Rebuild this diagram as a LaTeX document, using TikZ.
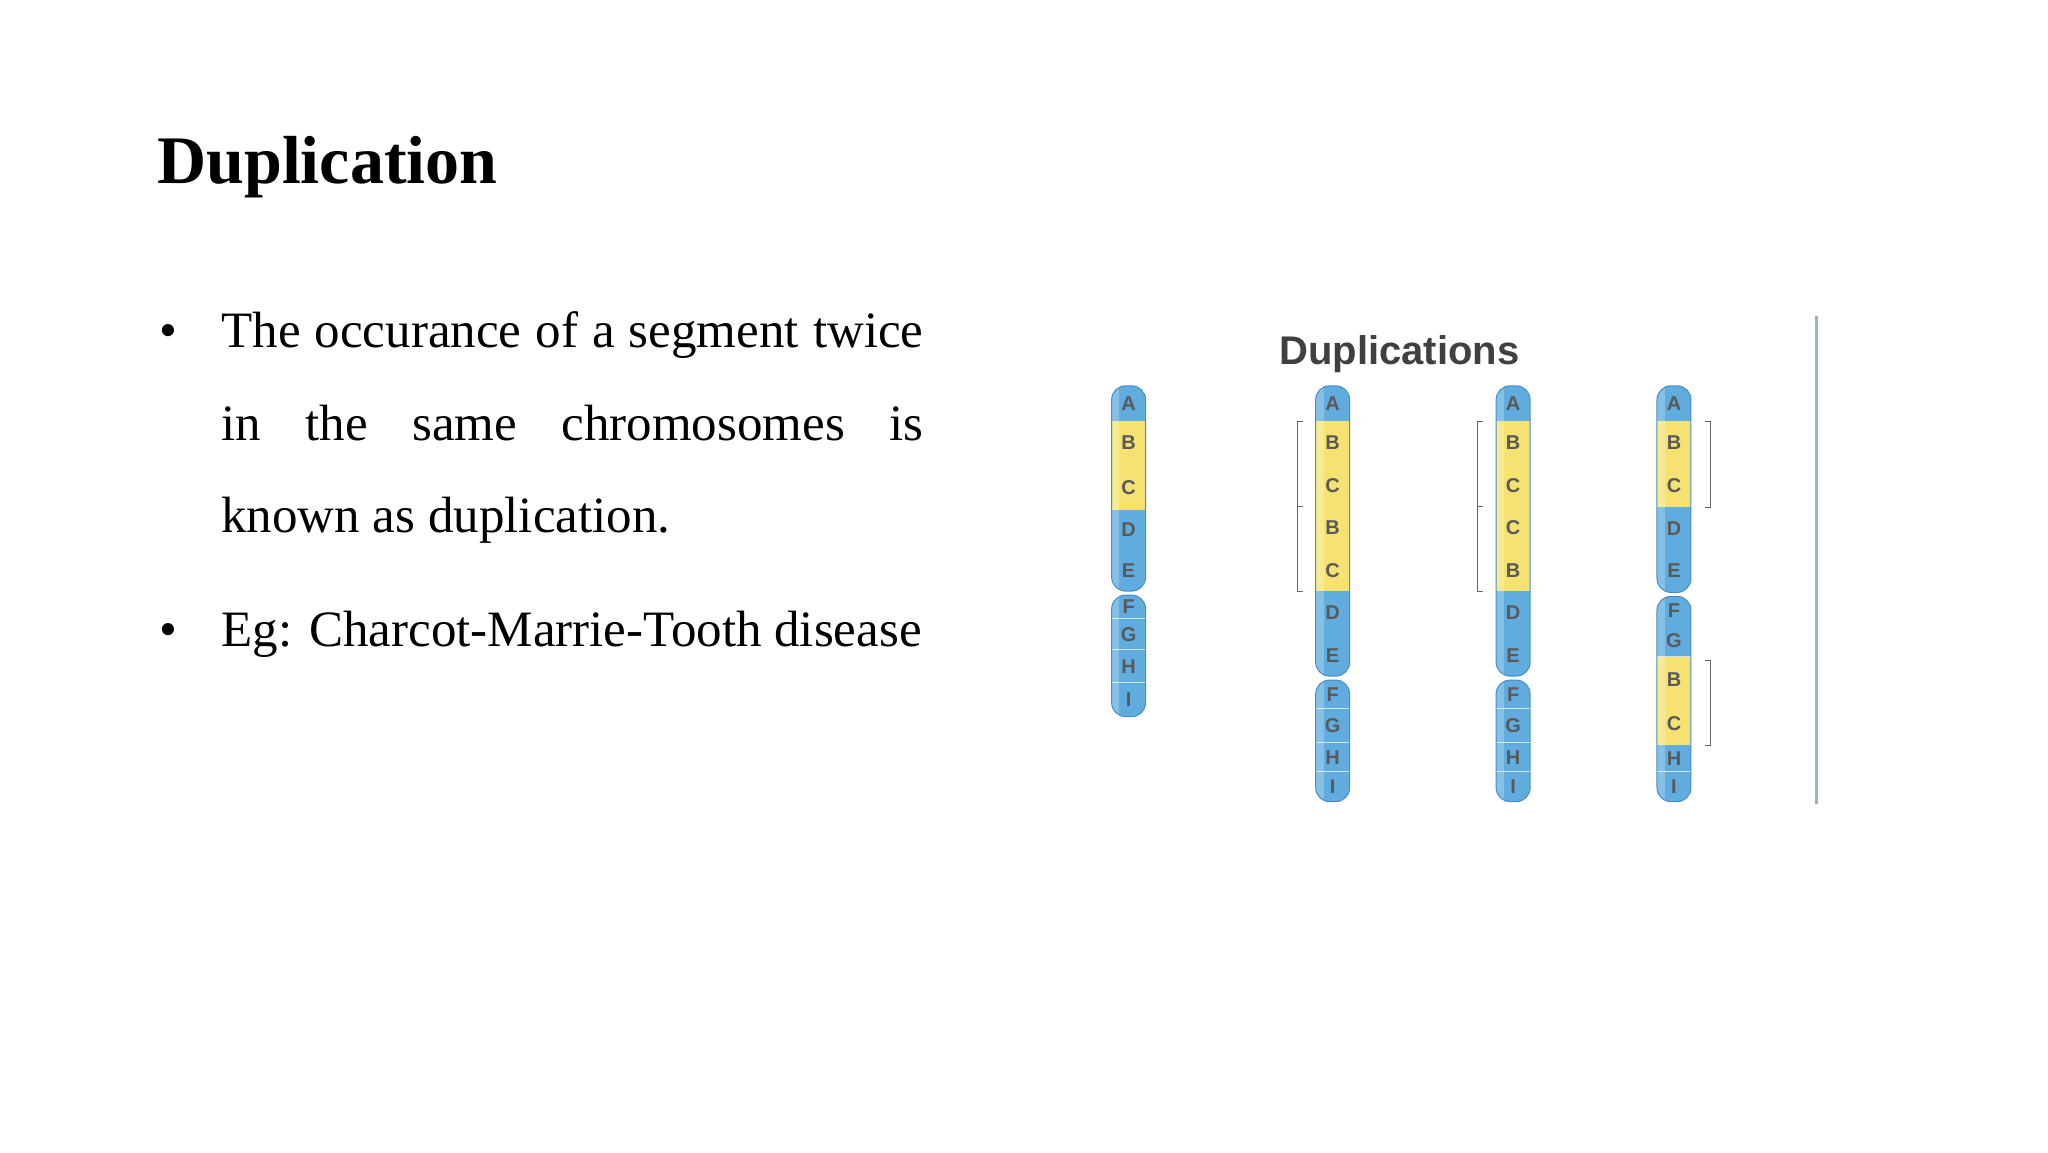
\documentclass[tikz,border=0pt]{standalone}
\usepackage{fontspec}
\setmainfont{Liberation Serif}
\newfontfamily\lsans{Liberation Sans}
\definecolor{cblue}{RGB}{96,172,222}
\definecolor{cyell}{RGB}{246,226,112}
\definecolor{cedge}{RGB}{70,140,200}
\definecolor{vline}{RGB}{150,185,180}
\tikzset{
 body/.style={anchor=base west,inner sep=0pt,font=\fontsize{25.5}{30}\selectfont},
 bandlbl/.style={font=\lsans\bfseries\fontsize{10}{10}\selectfont,text=black!65,inner sep=0pt},
 brk/.style={draw=black!60,line width=0.6pt},
}
\newcommand{\myarm}[4]{% x, top, bottom, bands
 \begin{scope}
 \clip[rounded corners=7] (#1-13,#2) rectangle (#1+13,#3);
 \foreach \t/\b/\c/\l in {#4}{
   \fill[\c] (#1-13,\t) rectangle (#1+13,\b);
   \draw[white!70!cblue,line width=0.5pt] (#1-13,\b) -- (#1+13,\b);
   \node[bandlbl] at (#1,{(\t+\b)/2}) {\l};
 }
 \fill[white,opacity=0.25] (#1-13,#2) rectangle (#1-7,#3);
 \end{scope}
 \draw[cedge,line width=0.5pt,rounded corners=7] (#1-13,#2) rectangle (#1+13,#3);
}
\begin{document}
\begin{tikzpicture}[x=0.6539pt,y=-0.6539pt]
\useasboundingbox (0,0) rectangle (1566,881);
\node[anchor=base west,inner sep=0pt,font=\bfseries\fontsize{34}{40}\selectfont] (title) at (120,140) {Duplication};
\node[body] (b1) at (122,266) {\textbullet};
\node[body] (l1) at (169,266) {\hbox to 351pt{The occurance of a segment twice}};
\node[body] (l2) at (169,337) {\hbox to 351pt{in\hfill the\hfill same\hfill chromosomes\hfill is}};
\node[body] (l3) at (169,407) {known as duplication.};
\node[body] (b2) at (122,494) {\textbullet};
\node[body] (l4) at (169,494) {Eg: Charcot-Marrie-Tooth disease};
\node[font=\lsans\bfseries\fontsize{20}{20}\selectfont,text=black!75] (dt) at (1070,271) {Duplications};
% chromosome 1
\myarm{863}{295}{452}{295/322/cblue/A,322/355/cyell/B,355/390/cyell/C,390/420/cblue/D,420/452/cblue/E}
\myarm{863}{455}{548}{455/473/cblue/F,473/497/cblue/G,497/522/cblue/H,522/548/cblue/I}
% chromosome 2
\myarm{1019}{295}{517}{295/322/cblue/A,322/355/cyell/B,355/387/cyell/C,387/420/cyell/B,420/452/cyell/C,452/485/cblue/D,485/517/cblue/E}
\myarm{1019}{520}{613}{520/542/cblue/F,542/568/cblue/G,568/590/cblue/H,590/613/cblue/I}
% chromosome 3
\myarm{1157}{295}{517}{295/322/cblue/A,322/355/cyell/B,355/387/cyell/C,387/420/cyell/C,420/452/cyell/B,452/485/cblue/D,485/517/cblue/E}
\myarm{1157}{520}{613}{520/542/cblue/F,542/568/cblue/G,568/590/cblue/H,590/613/cblue/I}
% chromosome 4
\myarm{1280}{295}{453}{295/322/cblue/A,322/355/cyell/B,355/388/cyell/C,388/420/cblue/D,420/453/cblue/E}
\myarm{1280}{456}{613}{456/478/cblue/F,478/502/cblue/G,502/537/cyell/B,537/570/cyell/C,570/590/cblue/H,590/613/cblue/I}
% brackets
\draw[brk] (996,322) -- (992,322) -- (992,452) -- (996,452);
\draw[brk] (992,387) -- (996,387);
\draw[brk] (1134,322) -- (1130,322) -- (1130,452) -- (1134,452);
\draw[brk] (1130,387) -- (1134,387);
\draw[brk] (1304,322) -- (1308,322) -- (1308,388) -- (1304,388);
\draw[brk] (1304,505) -- (1308,505) -- (1308,570) -- (1304,570);
\draw[vline,line width=1.2pt] (1389,242) -- (1389,615);
\end{tikzpicture}
\end{document}
